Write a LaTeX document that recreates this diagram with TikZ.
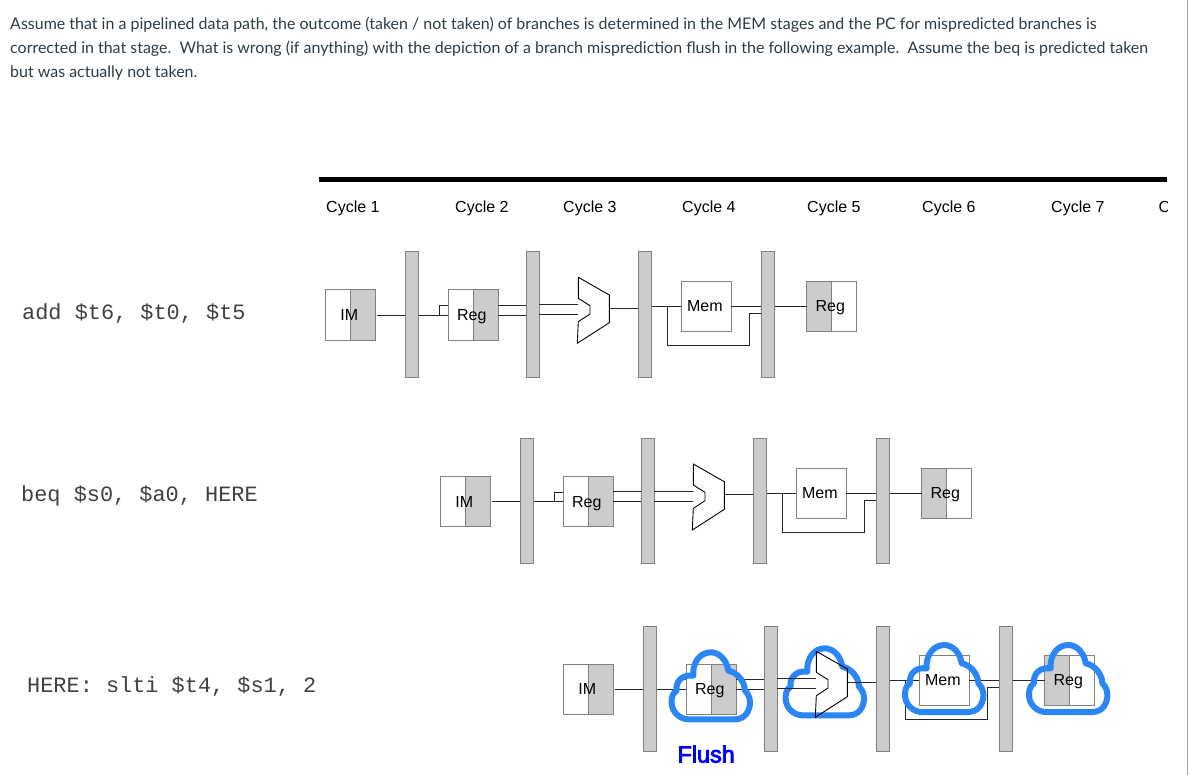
\documentclass[tikz,border=0pt]{standalone}
\usepackage{fontspec}
\setmainfont{Liberation Sans}
\newfontfamily\lato{Lato}
\newfontfamily\monof{Liberation Mono}
\newfontfamily\flushf{Liberation Sans}[RawFeature={embolden=3.5}]
\definecolor{para}{HTML}{2D3B45}
\definecolor{stagefill}{HTML}{CCCCCC}
\definecolor{edge}{HTML}{808080}
\definecolor{cloudblue}{HTML}{2B85F5}
\newcommand{\ut}[1]{#1\kern2.4pt}
\tikzset{
  paraline/.style={anchor=base west,inner sep=0,text=para,font=\lato\fontsize{15.97}{18}\selectfont},
  instr/.style={anchor=base west,inner sep=0,text=black!75,font=\monof\fontsize{21.9}{24}\selectfont},
  cyc/.style={anchor=base west,inner sep=0,font=\fontsize{16}{18}\selectfont},
  bar/.style={draw=edge,fill=stagefill,line width=1pt,minimum width=13.3pt,minimum height=125pt,inner sep=0,outer sep=0},
  unit/.style={draw=edge,line width=1pt,fill=white,minimum width=50pt,minimum height=50pt,inner sep=0,outer sep=0,text height=11pt,text depth=0pt,font=\fontsize{16}{18}\selectfont},
  halfR/.style={unit,path picture={\fill[stagefill] (path picture bounding box.north) rectangle (path picture bounding box.south east);\draw[edge,line width=1pt] (path picture bounding box.north) -- (path picture bounding box.south);}},
  halfL/.style={unit,path picture={\fill[stagefill] (path picture bounding box.north) rectangle (path picture bounding box.south west);\draw[edge,line width=1pt] (path picture bounding box.north) -- (path picture bounding box.south);}},
  wire/.style={draw=black!85,line width=.9pt},
  alushape/.style={draw=black,line width=.9pt},
  cloudline/.style={draw=cloudblue,line width=6pt,line join=round},
}
\begin{document}
\begin{tikzpicture}[x=1pt,y=-1pt]
\useasboundingbox (0,0) rectangle (1190,775);
% page edge
\coordinate (edgeT) at (1187.7,0);
\coordinate (edgeB) at (1187.7,775);
\draw[draw=black!35,line width=1.2pt] (edgeT) -- (edgeB);
% question text
\node[paraline] (q1) at (10,29.5) {Assume that in a pipelined data path, the outcome (taken / not taken) of branches is determined in the MEM stages and the PC for mispredicted branches is};
\node[paraline] (q2) at (10,53.5) {corrected in that stage.\ \ What is wrong (if anything) with the depiction of a branch misprediction flush in the following example.\ \ Assume the beq is predicted taken};
\node[paraline] (q3) at (10,77.5) {but was actually not taken.};
% header
\coordinate (ruleL) at (319,180);
\coordinate (ruleR) at (1167,180);
\draw[line width=5pt] (ruleL) -- (ruleR);
\foreach \n/\x/\t in {c1/326/Cycle 1,c2/455/Cycle 2,c3/563/Cycle 3,c4/682/Cycle 4,c5/807/Cycle 5,c6/922/Cycle 6,c7/1051/Cycle 7}
  \node[cyc] (\n) at (\x,212.5) {\t};
\begin{scope}
\clip (1150,190) rectangle (1167,225);
\node[cyc] (c8) at (1158.5,212.5) {C};
\end{scope}
% instructions
\node[instr] (i1) at (22,319.5) {add \$t6, \$t0, \$t5};
\node[instr] (i2) at (21,501.5) {beq \$s0, \$a0, HERE};
\node[instr] (i3) at (27,692) {HERE: slti \$t4, \$s1, 2};
% pipeline rows
\foreach \r/\dx/\dy in {a/0/0,b/115/186.7,c/238/374}{
\begin{scope}[shift={(\dx,\dy)}]
  \node[halfR] (\r im) at (350.5,315) {\ut{IM}};
  \node[bar] (\r b1) at (412,314.5) {};
  \node[halfR] (\r rg) at (473,315) {\ut{Reg}};
  \node[bar] (\r b2) at (532.7,314.5) {};
  \node[bar] (\r b3) at (645,314.5) {};
  \node[unit] (\r mem) at (706,306.3) {\ut{Mem}};
  \node[bar] (\r b4) at (768,314.5) {};
  \node[halfL] (\r wb) at (831.5,306.3) {\ut{Reg}};
  \coordinate (\r a1) at (578.3,277.3);
  \coordinate (\r a2) at (609.3,295);
  \coordinate (\r a3) at (609.3,322.7);
  \coordinate (\r a4) at (577.3,343.3);
  \coordinate (\r a5) at (578.3,321.7);
  \coordinate (\r a6) at (590,314);
  \coordinate (\r a7) at (590,305.7);
  \coordinate (\r a8) at (578.3,298.3);
  \coordinate (\r in1) at (577.5,304.5);
  \coordinate (\r in2) at (577.5,314.5);
  \coordinate (\r out) at (609.3,308);
  \coordinate (\r s1) at (439.7,315);
  \coordinate (\r s2) at (439.7,305.7);
  \coordinate (\r s3) at (448,305.7);
  \coordinate (\r t1) at (667.7,306.3);
  \coordinate (\r t2) at (667.7,345.3);
  \coordinate (\r t3) at (749.3,345.3);
  \coordinate (\r t4) at (749.3,313.3);
  \coordinate (\r u1) at (498,305);
  \coordinate (\r u2) at (498,315);
\end{scope}
\draw[wire] ([xshift=1.5pt]\r im.east) -- (\r im.east -| \r b1.west);
\draw[wire] (\r rg.west -| \r b1.east) -- (\r rg.west);
\draw[wire] (\r s1) -- (\r s2) -- (\r s3);
\draw[wire] (\r u1) -- (\r u1 -| \r b2.west);
\draw[wire] (\r u2) -- (\r u2 -| \r b2.west);
\draw[wire] (\r mem.west -| \r b3.east) -- (\r mem.west);
\draw[wire] (\r t1) -- (\r t2) -- (\r t3) -- (\r t4) -- (\r t4 -| \r b4.west);
\draw[wire] (\r mem.east) -- (\r mem.east -| \r b4.west);
\draw[wire] (\r wb.west -| \r b4.east) -- (\r wb.west);
}
% flush clouds
\foreach \n/\x/\y in {cl1/669.3/650,cl2/783.3/646,cl3/902.7/642.7,cl4/1026.7/642.7}{
\begin{scope}[shift={(\x,\y)}]
  \coordinate (\n) at (0,0);
  \draw[cloudline] (19,69.3) -- (65.7,69.3)
    .. controls (75.7,69.3) and (80.7,60.7) .. (80.7,52.3)
    .. controls (80.7,47) and (78,42.7) .. (75.7,40.7)
    .. controls (75,29) and (66,22) .. (59,20.7)
    .. controls (57.3,9) and (49,2.3) .. (41.7,2.3)
    .. controls (30.7,2.3) and (23,12.3) .. (24,25.7)
    .. controls (12.3,24) and (6,32.3) .. (7.3,40.7)
    .. controls (3,43) and (2.3,48) .. (2.3,52.3)
    .. controls (2.3,62) and (10.7,69.3) .. (19,69.3) -- cycle;
\end{scope}
}
% ALUs and their wires
\foreach \r in {a,b,c}{
\draw[wire] (\r in1 -| \r b2.east) -- (\r in1);
\draw[wire] (\r in2 -| \r b2.east) -- (\r in2);
\draw[wire] (\r out) -- (\r out -| \r b3.west);
\draw[alushape] (\r a1) -- (\r a2) -- (\r a3) -- (\r a4) -- (\r a5) -- (\r a6) -- (\r a7) -- (\r a8) -- cycle;
}
\node[anchor=base west,inner sep=0,text=blue,font=\flushf\fontsize{23.3}{26}\selectfont] (flush) at (677.5,762.5) {Flush};
\end{tikzpicture}
\end{document}
